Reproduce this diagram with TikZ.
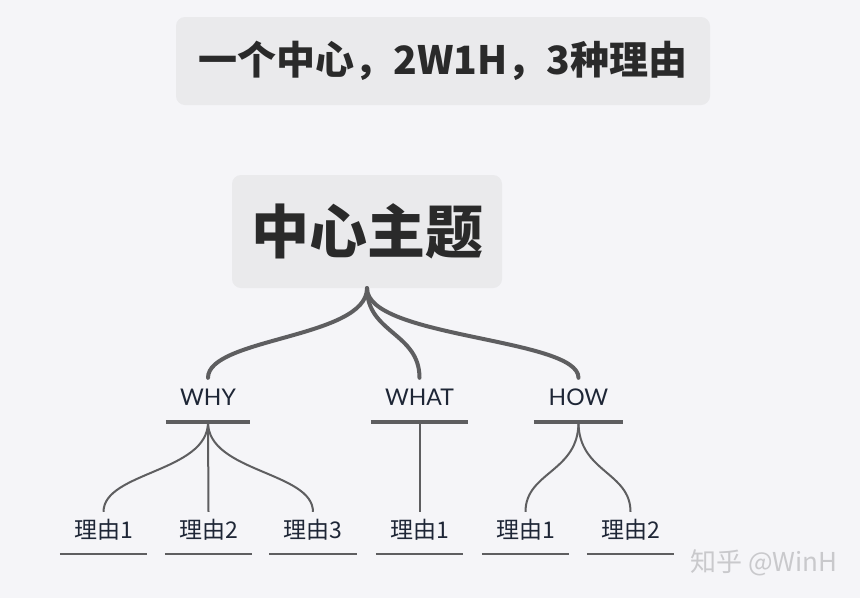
\documentclass[tikz,border=0pt]{standalone}
\usepackage{fontspec}
\setmainfont{Noto Sans CJK SC}
\newfontfamily\cjk{Noto Sans CJK SC}
\newfontfamily\lat{Lato}
\definecolor{bg}{HTML}{F5F5F8}
\definecolor{boxfill}{HTML}{EAEAEC}
\definecolor{linec}{HTML}{5E5E60}
\definecolor{txt}{HTML}{2A2A2A}
\definecolor{navy}{HTML}{1E2636}
\definecolor{wm}{HTML}{C9C9CC}
\begin{document}
\begin{tikzpicture}[x=1pt,y=-1pt,
  topbox/.style={fill=boxfill,rounded corners=9pt,inner sep=0pt},
  branch/.style={inner sep=0pt,minimum width=#1,minimum height=44pt,text height=17pt,text depth=6pt,
    font=\lat\fontsize{23}{23}\selectfont,text=navy},
  leaf/.style={inner sep=0pt,minimum width=87pt,minimum height=42pt,text height=15pt,text depth=4pt,
    font=\cjk\fontsize{23}{23}\selectfont,text=navy},
  bigwire/.style={draw=linec,line width=4pt,line cap=round},
  smallwire/.style={draw=linec,line width=2pt},
  barthick/.style={draw=linec,line width=3.5pt},
  barthin/.style={draw=linec,line width=2pt}]
\fill[bg] (0,0) rectangle (860,598);
\useasboundingbox (0,0) rectangle (860,598);
% title
\node[topbox,minimum width=534pt,minimum height=88pt,font=\cjk\bfseries\fontsize{39}{39}\selectfont,text=txt]
  (title) at (443,61) {一个中心，2W1H，3种理由};
% central
\node[topbox,minimum width=270pt,minimum height=113pt,font=\cjk\bfseries\fontsize{58}{58}\selectfont,text=txt]
  (center) at (367,231.5) {中心主题};
% branches
\node[branch=84pt] (why) at (208,400) {WHY};
\node[branch=97pt] (what) at (419.5,400) {WHAT};
\node[branch=89pt] (how) at (578.5,400) {HOW};
\foreach \n in {why,what,how}{\draw[barthick] (\n.south west) -- (\n.south east);}
% leaves
\node[leaf] (w1) at (103.5,533) {理由1};
\node[leaf] (w2) at (208.5,533) {理由2};
\node[leaf] (w3) at (313,533) {理由3};
\node[leaf] (a1) at (419.5,533) {理由1};
\node[leaf] (h1) at (525.5,533) {理由1};
\node[leaf] (h2) at (630.5,533) {理由2};
\foreach \n in {w1,w2,w3,a1,h1,h2}{\draw[barthin] (\n.south west) -- (\n.south east);}
% main connectors
\draw[bigwire] (center.south) .. controls ([yshift=-50pt]center.south) and ([yshift=40pt]why.north) .. (why.north);
\draw[bigwire] (center.south) .. controls ([yshift=-45pt]center.south) and ([yshift=45pt]what.north) .. (what.north);
\draw[bigwire] (center.south) .. controls ([yshift=-50pt]center.south) and ([yshift=40pt]how.north) .. (how.north);
% leaf connectors
\draw[smallwire] (why.south) .. controls ([yshift=-50pt]why.south) and ([yshift=40pt]w1.north) .. (w1.north);
\draw[smallwire] (why.south) -- (w2.north);
\draw[smallwire] (why.south) .. controls ([yshift=-50pt]why.south) and ([yshift=40pt]w3.north) .. (w3.north);
\draw[smallwire] (what.south) -- (a1.north);
\draw[smallwire] (how.south) .. controls ([yshift=-50pt]how.south) and ([yshift=40pt]h1.north) .. (h1.north);
\draw[smallwire] (how.south) .. controls ([yshift=-50pt]how.south) and ([yshift=40pt]h2.north) .. (h2.north);
% watermark
\node[font=\cjk\fontsize{26}{26}\selectfont,text=wm,anchor=west,inner sep=0pt] (mark) at (690,563) {知乎 @WinH};
\end{tikzpicture}
\end{document}
